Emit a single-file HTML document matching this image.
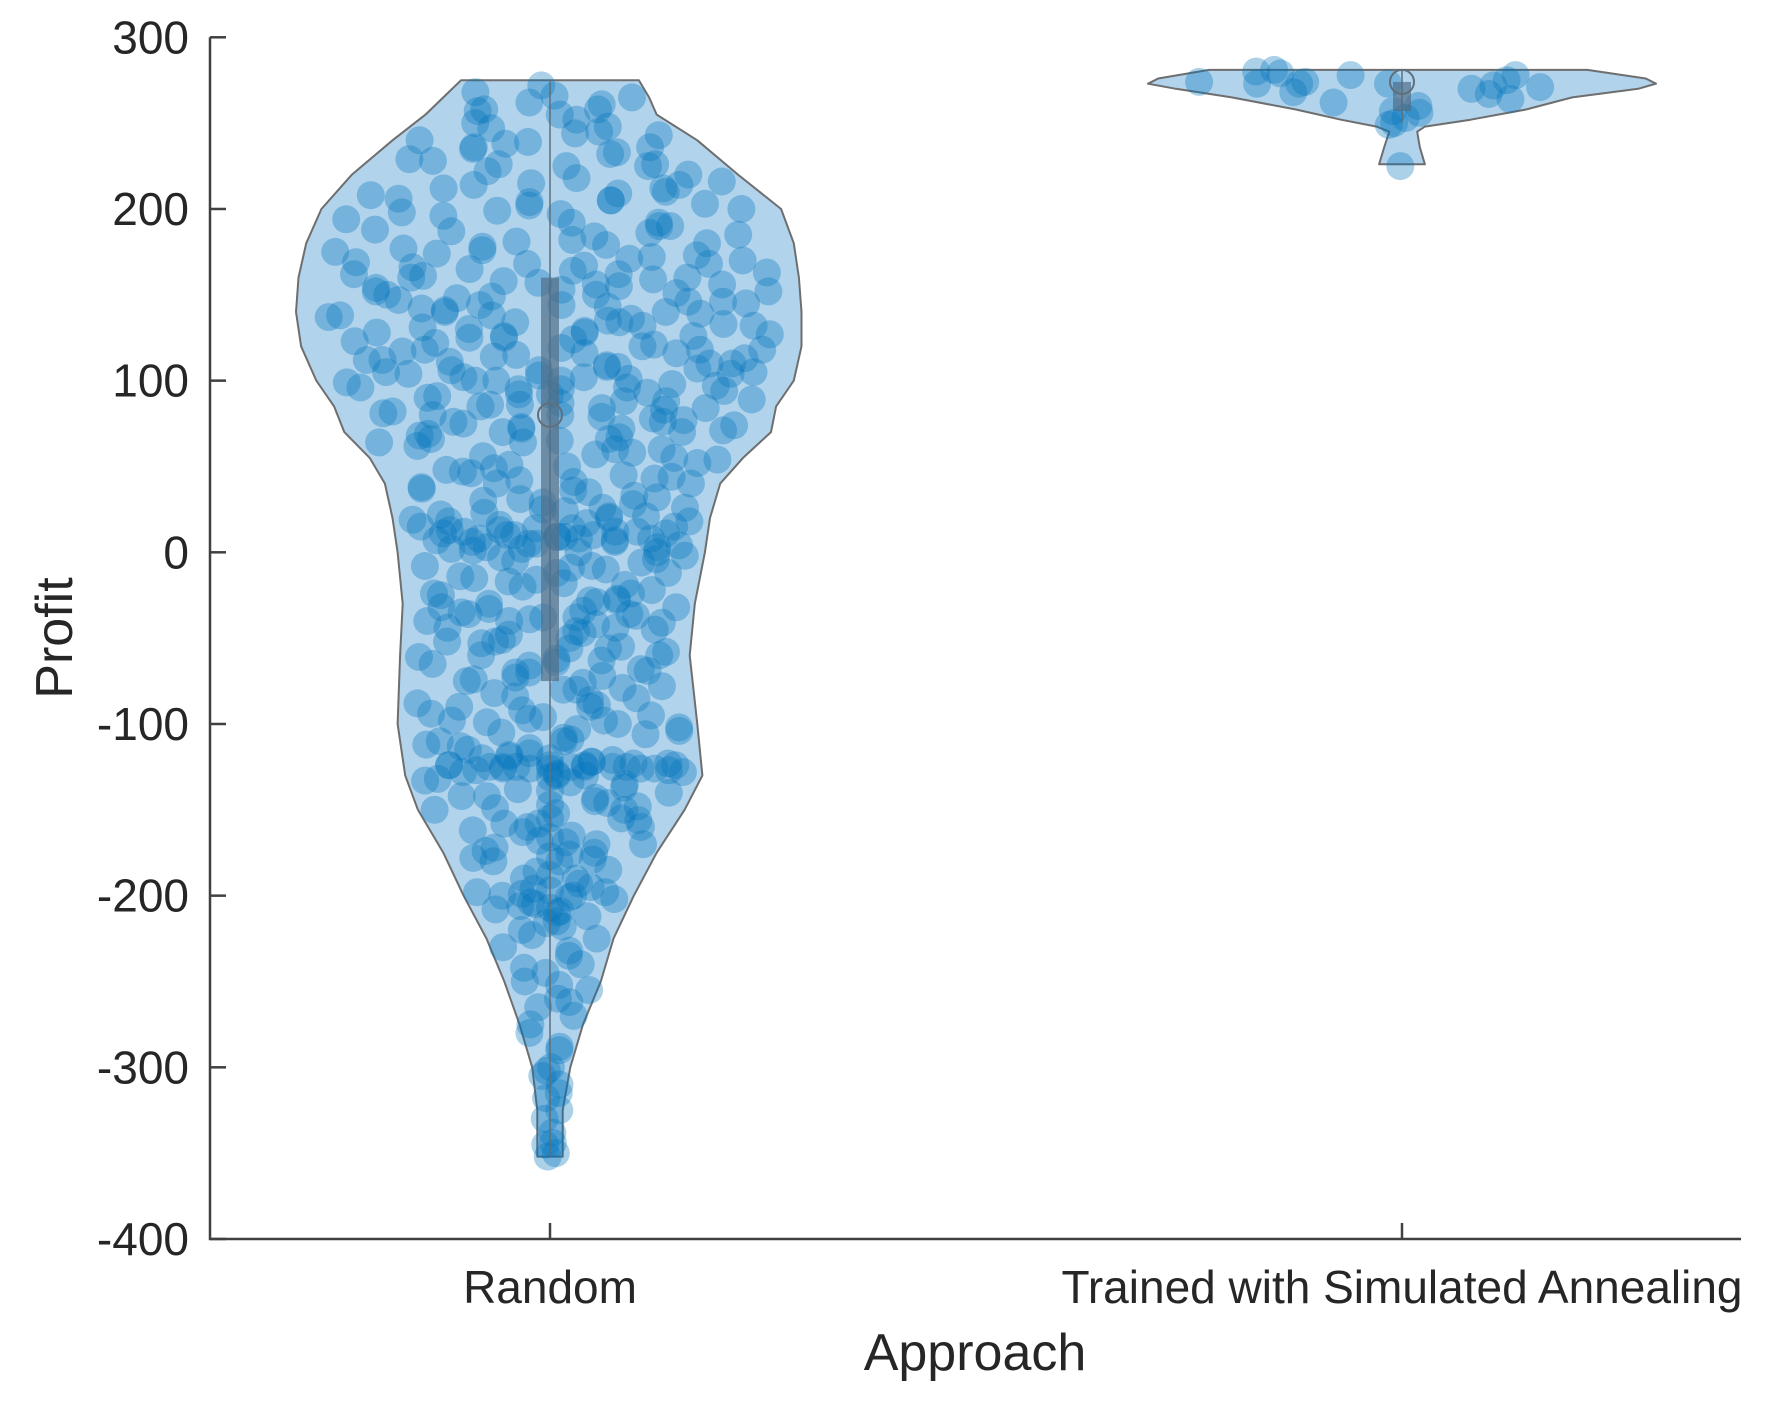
<!DOCTYPE html>
<html><head><meta charset="utf-8"><style>
html,body{margin:0;padding:0;background:#fff;}
svg{display:block;font-family:"Liberation Sans",Arial,sans-serif;}
</style></head><body>
<svg id="chart" width="1768" height="1401" viewBox="0 0 1768 1401" xmlns="http://www.w3.org/2000/svg">
<g id="plot"></g>
<g id="axes"></g>
</svg>
<script>
// ---- data ----
const categories = ["Random", "Trained with Simulated Annealing"];
const yTicks = [300, 200, 100, 0, -100, -200, -300, -400];
const yTickLabels = ["300", "200", "100", "0", "-100", "-200", "-300", "-400"];
const randProfileV = [275,265,255,240,220,200,180,160,140,120,100,85,70,55,40,20,0,-30,-60,-100,-130,-150,-175,-200,-225,-250,-275,-300,-325,-352];
const randProfileL = [0.35,0.42,0.49,0.62,0.78,0.90,0.96,0.99,1.00,0.98,0.92,0.85,0.81,0.71,0.65,0.62,0.60,0.58,0.59,0.60,0.57,0.52,0.42,0.34,0.25,0.18,0.12,0.07,0.05,0.05];
const randProfileR = [0.35,0.39,0.42,0.58,0.74,0.91,0.96,0.98,0.99,0.99,0.96,0.89,0.87,0.76,0.67,0.63,0.61,0.57,0.55,0.58,0.60,0.53,0.42,0.33,0.25,0.20,0.13,0.08,0.05,0.05];
const saProfileV = [281,276,273,270,265,258,252,248,245,236,226];
const saProfileL = [0.76,0.96,1.00,0.89,0.67,0.42,0.24,0.10,0.05,0.07,0.09];
const saProfileR = [0.73,0.96,1.00,0.93,0.67,0.49,0.27,0.09,0.06,0.07,0.09];
const randStats = {q1:-75, q3:160, median:80, lo:-352, hi:275};
const saStats = {q1:257, q3:274, median:274, lo:250, hi:281};
const randVals = [268,262,258,265,250,244,240,236,238,232,228,225,220,214,210,208,205,202,200,196,192,188,184,180,178,175,172,170,166,164,162,160,158,155,152,150,148,146,144,142,140,138,135,132,130,128,126,124,122,120,118,115,112,110,108,106,105,104,102,100,98,96,94,92,90,88,86,84,82,80,78,76,74,72,70,68,66,64,60,56,52,50,48,45,42,40,38,35,32,30,28,25,22,20,18,16,15,14,12,12,11,10,10,9,8,8,7,6,5,4,2,0,-3,-6,-8,-10,-12,-15,-18,-20,-22,-25,-28,-30,-32,-34,-35,-36,-38,-40,-42,-45,-48,-50,-52,-55,-58,-60,-62,-65,-68,-70,-72,-75,-78,-80,-82,-85,-88,-90,-92,-95,-98,-100,-102,-105,-108,-110,-112,-115,-118,-120,-122,-123,-124,-124,-125,-125,-125,-126,-126,-127,-128,-130,-132,-135,-138,-140,-142,-145,-148,-150,-152,-155,-158,-160,-162,-165,-168,-170,-172,-175,-178,-180,-185,-190,-195,-198,-200,-200,-202,-205,-208,-212,-215,-220,-225,-230,-235,-240,-245,-250,-255,-260,-265,-270,-280,-290,-300,-305,-310,-318,-325,-338,-345,-350,-352,
 255,245,235,225,215,205,198,190,182,176,168,160,150,140,132,125,118,112,108,104,100,95,88,80,72,64,55,46,36,26,18,12,10,6,0,-8,-16,-24,-32,-38,-44,-52,-60,-70,-80,-90,-98,-106,-114,-120,-124,-125,-126,-128,-134,-142,-150,-160,-170,-180,-190,-198,-206,-218,
 236,212,192,168,156,144,134,126,116,106,100,92,84,70,60,40,24,14,8,2,-12,-28,-40,-56,-66,-76,-96,-110,-122,-125,-130,-146,-158,-176,-196,-210,
 272,266,261,257,252,247,243,239,233,229,226,222,218,216,212,209,206,203,199,197,194,190,187,185,181,179,177,173,171,169,167,165,163,161,159,157,156,154,153,151,149,147,145,143,141,139,137,136,134,133,131,129,127,125,123,121,119,117,116,114,113,111,109,107,105,103,101,99,97,95,93,91,89,87,85,83,81,79,77,75,73,71,69,67,65,62,58,54,51,47,44,41,37,33,29,26,23,21,19,17,15,13,11,9,7,5,3,1,-2,-5,-9,-14,-19,-24,-29,-33,-37,-39,-41,-44,-47,-51,-56,-61,-64,-69,-74,-79,-84,-89,-94,-99,-104,-109,-113,-117,-121,-123,-124,-125,-125,-126,-127,-129,-133,-137,-143,-149,-156,-163,-169,-174,-179,-186,-193,-199,-201,-204,-209,-216,-223,-232,-242,-252,-262,-275,-288,-302,-315,-330,-344,
 258,248,226,214,204,186,174,162,152,146,138,128,118,110,102,96,86,76,66,57,49,43,31,21,13,9,3,-4,-17,-27,-36,-46,-53,-63,-73,-86,-97,-103,-119,-124,-126,-131,-139,-147,-155,-166,-177,-188,-197,-207];
const randJit = [-0.8,-0.2,0.5,0.9,-0.6,0.2,-0.9,0.7,-0.3,0.4,-0.7,0.1,0.8,-0.4,0.6,-0.9,0.3,-0.1,0.9,-0.5,0.5,-0.8,0.2,0.7,-0.3,-0.95,0.45,0.85,-0.6,0.1,-0.85,0.6,-0.2,0.3,0.95,-0.7,-0.4,0.75,0.05,-0.55,0.5,-0.9,0.25,0.88,-0.35,-0.75,0.62,0.1,-0.5,0.4,0.92,-0.15,-0.82,0.7,0.3,-0.45,0.9,-0.65,0.15,-0.25,0.55,-0.9,0.8,0.0,-0.6,0.35,-0.3,0.75,-0.8,0.05,0.5,-0.5,0.9,-0.15,0.65,-0.7,0.3,-0.95,0.6,-0.4,0.85,0.1,-0.65,0.45,-0.2,0.9,-0.85,0.25,0.7,-0.45,0.55,-0.05,-0.75,0.4,0.95,-0.35,-0.9,0.15,0.6,-0.6,0.8,-0.25,0.3,0.05,-0.5,0.7,-0.8,0.45,-0.1,0.9,-0.7,0.2,-0.35,0.65,-0.9,0.4,0.85,-0.55,0.1,-0.2,0.75,-0.8,0.5,-0.45,0.95,0.25,-0.65,0.6,-0.05,-0.9,0.35,0.8,-0.3,0.15,-0.75,0.55,0.9,-0.5,0.05,-0.85,0.7,-0.15,0.4,-0.6,0.85,0.2,-0.4,0.65,-0.95,0.3,-0.2,0.75,-0.7,0.5,0.95,-0.35,0.1,-0.8,-0.9,-0.6,-0.3,0.0,0.3,0.6,0.9,-0.75,0.45,0.15,-0.45,0.75,-0.15,0.85,-0.65,0.25,-0.85,0.55,-0.25,0.9,-0.5,0.35,0.7,-0.95,0.05,0.6,-0.4,0.8,-0.7,0.2,-0.1,0.9,-0.55,0.45,-0.8,0.1,0.65,-0.3,0.5,-0.9,-0.6,0.3,0.85,-0.2,-0.75,0.55,0.1,-0.45,0.8,-0.85,0.35,0.6,-0.1,-0.6,0.9,0.2,-0.35,0.7,-0.8,0.4,0.05,-0.5,0.6,-0.3,0.8,0.2,-0.4,0.5,-0.2,0.1,0.4,
 -0.5,0.6,-0.1,0.3,-0.7,0.5,0.1,-0.3,0.7,-0.6,0.2,-0.45,0.4,-0.2,0.65,-0.75,0.25,0.8,-0.35,0.05,0.55,-0.6,0.35,-0.15,0.7,-0.5,0.15,0.9,-0.7,0.45,-0.3,-0.55,0.75,0.3,-0.1,0.6,-0.8,0.2,0.5,-0.4,0.85,-0.25,0.1,-0.65,0.4,0.7,-0.15,-0.5,0.25,0.55,-0.35,0.95,0.15,-0.7,0.6,-0.2,0.45,-0.6,0.3,0.7,-0.4,0.2,-0.5,0.6,
 0.1,-0.1,0.2,-0.3,0.3,-0.2,0.15,-0.05,0.05,-0.15,0.25,-0.25,0.35,-0.35,0.1,-0.1,0.2,-0.2,0.05,0.3,-0.3,0.15,-0.15,0.25,-0.05,0.1,0.3,-0.25,0.05,0.45,-0.1,0.2,-0.2,0.1,-0.1,0.05,
 0.55,-0.65,0.25,-0.45,0.85,-0.15,0.45,-0.85,0.65,-0.35,0.15,0.95,-0.55,0.35,-0.75,0.75,-0.25,0.05,-0.95,0.55,-0.45,0.85,-0.15,0.25,-0.65,0.65,0.35,-0.85,0.15,-0.35,0.95,-0.55,0.45,-0.05,0.75,-0.75,0.05,0.55,-0.25,-0.65,0.85,0.25,-0.45,0.65,-0.95,0.35,-0.15,0.75,-0.55,0.15,0.95,-0.35,-0.85,0.45,0.05,-0.65,0.55,-0.25,0.85,-0.45,0.25,0.65,-0.75,-0.05,0.35,-0.95,0.75,-0.15,0.45,-0.55,0.95,0.05,-0.35,0.55,-0.85,0.25,0.65,-0.45,-0.15,0.85,-0.65,0.35,0.05,-0.75,0.45,0.95,-0.25,-0.55,0.75,0.15,-0.85,0.55,-0.05,0.35,-0.45,0.65,-0.95,0.25,0.85,-0.35,-0.75,0.05,0.45,-0.15,0.75,-0.55,0.95,-0.25,0.15,-0.65,0.55,-0.85,0.35,-0.45,0.65,-0.15,0.85,-0.75,0.25,-0.35,0.45,-0.95,0.05,0.75,-0.55,0.55,-0.25,0.35,-0.85,-0.45,0.95,0.15,-0.65,-0.15,0.45,0.85,-0.75,0.25,-0.35,0.65,-0.55,0.05,-0.95,0.55,0.35,-0.45,0.75,-0.25,0.15,-0.65,0.45,-0.15,0.35,-0.35,0.25,-0.25,0.15,-0.05,
 -0.3,0.35,-0.55,0.2,0.5,-0.7,0.4,-0.2,0.6,-0.45,0.25,-0.6,0.5,-0.3,0.7,-0.1,0.45,-0.5,0.3,-0.75,0.6,-0.25,0.15,-0.55,0.8,-0.4,0.35,-0.15,0.55,-0.65,0.25,-0.35,0.65,-0.2,0.4,-0.7,0.1,-0.45,0.75,-0.3,0.5,-0.6,0.2,-0.5,0.4,-0.25,0.3,-0.15,0.2,-0.3];
const saVals = [280,281,279,274,273,268,262,273,274,278,250,257,273,260,253,272,270,275,278,267,264,225,249,256,271];
const saJit = [-0.78,-0.72,-0.62,-0.88,-0.62,-0.58,-0.52,-0.44,-0.42,-0.25,-0.20,-0.10,-0.06,0.13,0.05,0.40,0.32,0.46,0.56,0.48,0.72,-0.08,-0.42,0.18,0.62];

// ---- scales ----
const X0 = 210, X1 = 1741, Y0 = 37.3, Y1 = 1239;
const catX = [550, 1402];
const maxHalf = 254;
function yS(v){ return Y0 + (300 - v) * (Y1 - Y0) / 700; }
function interp(vArr, wArr, v){
  for (let i=0;i<vArr.length-1;i++){
    const a=vArr[i], b=vArr[i+1];
    if ((v<=a && v>=b)){ const t=(a-v)/(a-b); return wArr[i]+(wArr[i+1]-wArr[i])*t; }
  }
  return wArr[wArr.length-1];
}
const NS = "http://www.w3.org/2000/svg";
function mk(tag, attrs, parent){ const e=document.createElementNS(NS,tag); for (const k in attrs) e.setAttribute(k, attrs[k]); parent.appendChild(e); return e; }
const plot = document.getElementById('plot');
const axes = document.getElementById('axes');

function violin(cx, V, L, R, name){
  let d = "";
  for (let i=0;i<V.length;i++) d += (i?"L":"M") + (cx + R[i]*maxHalf).toFixed(1) + "," + yS(V[i]).toFixed(1) + " ";
  for (let i=V.length-1;i>=0;i--) d += "L" + (cx - L[i]*maxHalf).toFixed(1) + "," + yS(V[i]).toFixed(1) + " ";
  d += "Z";
  const p = mk('path', {d:d, fill:'#b1d3ec', stroke:'#6e6e6e', 'stroke-width':2, 'stroke-linejoin':'round'}, plot);
  
  
}
function dots(cx, vals, jit, V, L, R, name){
  const g = mk('g', {}, plot);
  
  
  for (let i=0;i<vals.length;i++){
    const j = jit[i] === undefined ? 0 : jit[i];
    const w = j < 0 ? interp(V, L, vals[i]) : interp(V, R, vals[i]);
    const c = mk('circle', {cx:(cx + j*w*maxHalf*0.92).toFixed(1), cy:yS(vals[i]).toFixed(1), r:14, fill:'rgba(0,114,189,0.33)'}, g);
    
    
  }
}
function box(cx, s, name, bw){
  const g = mk('g', {}, plot);
  
  
  mk('line', {x1:cx, x2:cx, y1:yS(s.hi), y2:yS(s.lo), stroke:'#5f6f7c', 'stroke-width':1.5}, g);
  mk('rect', {x:cx-bw/2, y:yS(s.q3), width:bw, height:yS(s.q1)-yS(s.q3), fill:'rgba(80,110,135,0.7)'}, g);
  mk('circle', {cx:cx, cy:yS(s.median), r:12, fill:'none', stroke:'#5f6f7c', 'stroke-width':2}, g);
}
violin(catX[0], randProfileV, randProfileL, randProfileR, 'violin-random');
violin(catX[1], saProfileV, saProfileL, saProfileR, 'violin-simulated-annealing');
dots(catX[0], randVals, randJit, randProfileV, randProfileL, randProfileR, 'points-random');
dots(catX[1], saVals, saJit, saProfileV, saProfileL, saProfileR, 'points-simulated-annealing');
box(catX[0], randStats, 'box-random', 18);
box(catX[1], saStats, 'box-simulated-annealing', 18);

// ---- axes ----
const axColor = '#404040';
let l = mk('path', {d:`M${X0},${Y0} V${Y1} H${X1}`, fill:'none', stroke:axColor, 'stroke-width':2.5}, axes);


yTicks.forEach((v,i)=>{
  const y = yS(v);
  mk('line', {x1:X0, x2:X0+16, y1:y, y2:y, stroke:axColor, 'stroke-width':2.5}, axes);
  const t = mk('text', {x:189, y:y+16, 'text-anchor':'end', 'font-size':46, fill:'#262626'}, axes);
  t.textContent = yTickLabels[i];
  
  
});
categories.forEach((c,i)=>{
  mk('line', {x1:catX[i], x2:catX[i], y1:Y1, y2:Y1-16, stroke:axColor, 'stroke-width':2.5}, axes);
  const t = mk('text', {x:catX[i], y:1303, 'text-anchor':'middle', 'font-size':46, fill:'#262626'}, axes);
  t.textContent = c;
  
  
});
let xt = mk('text', {x:975, y:1370, 'text-anchor':'middle', 'font-size':52, fill:'#262626'}, axes);
xt.textContent = 'Approach';


let yt = mk('text', {x:0, y:0, 'text-anchor':'middle', 'font-size':52, fill:'#262626', transform:'translate(72,638) rotate(-90)'}, axes);
yt.textContent = 'Profit';


</script>
</body></html>
